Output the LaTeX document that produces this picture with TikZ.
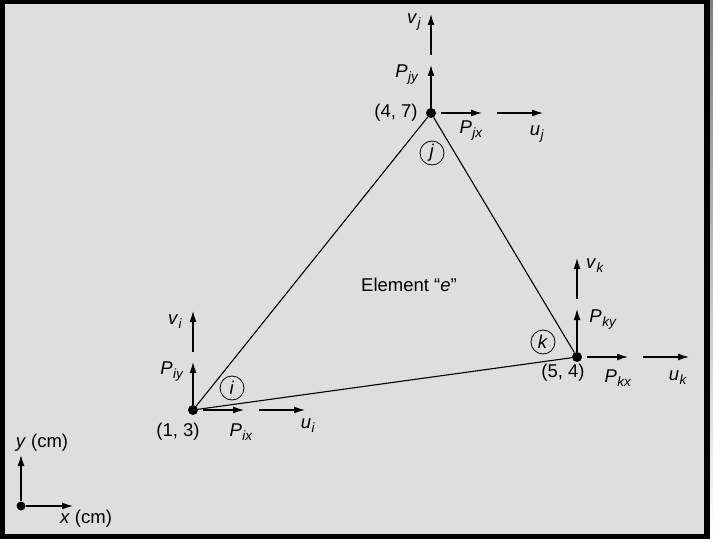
\documentclass[tikz,border=0pt]{standalone}
\usepackage{fontspec}
\setmainfont{Liberation Sans}
\usetikzlibrary{arrows.meta}
\usepackage{xcolor}
\definecolor{panel}{RGB}{222,222,222}
\definecolor{shade}{RGB}{150,150,150}
\newcommand{\var}[2]{\textit{#1}\kern0.5pt\raisebox{-4pt}{\fontsize{13.5}{15}\selectfont\textit{#2}}}

\tikzset{
    dot/.style={fill,circle,inner sep=0pt,minimum size=10pt},
    load/.style={-{Latex[length=11pt,width=7pt]},line width=1.3pt},
    tag/.style={draw,circle,inner sep=0pt,minimum size=24pt,line width=0.8pt},
    side/.style={line width=1.1pt},
    every node/.style={font=\fontsize{18.5}{21}\selectfont}
}

\begin{document}
\begin{tikzpicture}[x=1pt,y=-1pt]
    \useasboundingbox (0,0) rectangle (713,543);
    % frame
    \fill[shade] (0,0) rectangle (713,543);
    \fill[black] (0,0) rectangle (710,539);
    \fill[panel] (5,4) rectangle (704,534);

    % corners and their loads
    \foreach \n/\x/\y in {i/193/410, j/431/113, k/577/357}{
        \node[dot] (\n) at (\x,\y) {};
        \coordinate (P\n y) at (\x,\y-48);
        \coordinate (v\n 0) at (\x,\y-58);
        \coordinate (v\n) at (\x,\y-99);
        \coordinate (P\n x0) at (\x+10,\y);
        \coordinate (P\n x) at (\x+51,\y);
        \coordinate (u\n 0) at (\x+66,\y);
        \coordinate (u\n) at (\x+112,\y);
        \draw[load] (\n) -- (P\n y);
        \draw[load] (v\n 0) -- (v\n);
        \draw[load] (P\n x0) -- (P\n x);
        \draw[load] (u\n 0) -- (u\n);
    }
    \draw[side] (i) -- (j) -- (k) -- (i);

    \node (vilab) at (175,322) {\var{v}{i}};
    \node (Piylab) at (172,372) {\var{P}{iy}};
    \node (cilab) at (178,432) {(1, 3)};
    \node (Pixlab) at (241,432) {\var{P}{ix}};
    \node (uilab) at (308,426) {\var{u}{i}};
    \node[tag] (ti) at (232,388) {\textit{i}};

    \node (vjlab) at (414,22) {\var{v}{j}};
    \node (Pjylab) at (407,75) {\var{P}{jy}};
    \node (cjlab) at (396,113) {(4, 7)};
    \node (Pjxlab) at (471,131) {\var{P}{jx}};
    \node (ujlab) at (537,134) {\var{u}{j}};
    \node[tag] (tj) at (432,153) {\textit{j}};

    \node (vklab) at (595,266) {\var{v}{k}};
    \node (Pkylab) at (603,320) {\var{P}{ky}};
    \node (cklab) at (563,373) {(5, 4)};
    \node (Pkxlab) at (618,378) {\var{P}{kx}};
    \node (uklab) at (678,378) {\var{u}{k}};
    \node[tag] (tk) at (543,342) {\textit{k}};

    \node (elem) at (409,285) {Element \textquotedblleft\textit{e}\textquotedblright};

    % axes
    \node[dot,minimum size=9pt] (o) at (21,506) {};
    \coordinate (oy) at (21,455);
    \coordinate (ox) at (73,506);
    \draw[load] (o) -- (oy);
    \draw[load] (o) -- (ox);
    \node (ylab) at (42,443) {\textit{y} (cm)};
    \node (xlab) at (86,519) {\textit{x} (cm)};
\end{tikzpicture}
\end{document}
